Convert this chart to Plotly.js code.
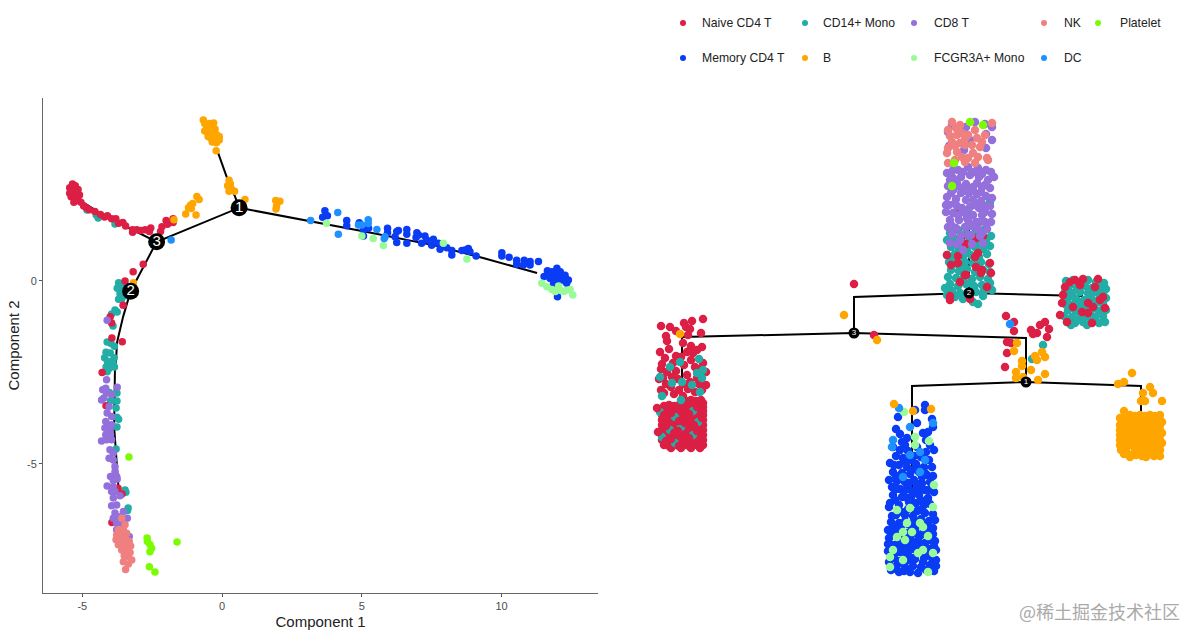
<!DOCTYPE html>
<html><head><meta charset="utf-8">
<script src="https://cdn.plot.ly/plotly-3.0.1.min.js"></script>
<style>html,body{margin:0;padding:0;background:#fff}#c{width:1200px;height:640px}</style></head>
<body><div id="c"></div>
<script>
const cNaive='#DC1F44',cMono='#22ADA6',cCD8='#9370DB',cNK='#F08080',cPlatelet='#7CFC00',cMemory='#0A3CF5',cB='#FFA500',cFCGR='#98FB98',cDC='#1E90FF';
const legendNames=['Naive CD4 T','CD14+ Mono','CD8 T','NK','Platelet','Memory CD4 T','B','FCGR3A+ Mono','DC'];
const legendColors=[cNaive,cMono,cCD8,cNK,cPlatelet,cMemory,cB,cFCGR,cDC];
const legendKeyX=[683,805,914,1044,1098,683,805,914,1044];
const legendTextX=[702,823,934,1064,1120,702,823,934,1064];
const legendKeyY=[23,23,23,23,23,58,58,58,58];

// Left panel: Component 1 / Component 2
const trajX=[-5.02,-4.37,-3.54,-2.34,0.61,0.47,0.22,-0.14,null,0.61,2.79,5.19,7.55,9.34,11.27,null,-2.34,-3.27,-3.54,-3.76,-3.79,-3.83,-3.86,-3.77,-3.69];
const trajY=[2.17,1.86,1.53,1.07,2.0,2.3,2.73,3.5,null,2.0,1.69,1.34,0.98,0.63,0.22,null,1.07,-0.28,-0.98,-1.69,-2.16,-2.35,-3.99,-4.89,-5.8];
const nodeX=[0.61,-3.27,-2.34],nodeY=[2.0,-0.28,1.07],nodeLabels=['1','2','3'];
const leftMono=[[-4.83,1.94],[-4.43,1.72],[-4.5,1.8],[-3.83,1.56],[-3.7,-0.05],[-3.6,-0.1],[-3.75,-0.2],[-3.6,-0.2],[-3.5,-0.25],[-3.65,-0.35],[-3.55,-0.4],[-3.45,-0.4],[-3.6,-0.5],[-3.7,-0.5],[-3.83,-0.79],[-3.95,-0.9],[-3.75,-0.85],[-3.9,-1.23],[-4.11,-1.67],[-3.97,-1.71],[-3.85,-1.78],[-4.0,-1.97],[-4.15,-1.95],[-3.86,-2.1],[-4.2,-2.1],[-4.1,-2.2],[-4.0,-2.2],[-3.9,-2.25],[-4.15,-2.35],[-4.05,-2.4],[-3.95,-2.33],[-3.85,-2.35],[-4.11,-2.48],[-3.76,-3.06],[-4.03,-3.05],[-3.76,-3.28],[-3.99,-3.27],[-3.79,-3.47],[-3.76,-3.72],[-3.7,-3.78],[-3.76,-3.99],[-3.79,-4.59],[-3.47,-5.71],[-3.44,-5.77],[-3.36,-6.2],[-3.38,-6.27]];
const leftNaive=[[-5.45,2.55],[-5.35,2.65],[-5.25,2.6],[-5.45,2.4],[-5.3,2.45],[-5.15,2.5],[-5.4,2.3],[-5.25,2.3],[-5.1,2.35],[-5.3,2.15],[-5.15,2.2],[-5.35,2.45],[-5.2,2.4],[-5.05,2.15],[-4.95,2.05],[-4.85,2.0],[-4.75,1.95],[-4.55,1.9],[-4.35,1.82],[-4.2,1.75],[-4.1,1.78],[-3.95,1.7],[-3.8,1.7],[-3.7,1.58],[-3.55,1.6],[-3.45,1.5],[-3.2,1.4],[-3.2,1.33],[-3.05,1.4],[-2.9,1.38],[-2.75,1.4],[-2.6,1.35],[-2.55,1.45],[-2.2,1.35],[-2.15,1.48],[-2.0,1.65],[-1.95,1.55],[-1.75,1.7],[-1.75,1.6],[-2.82,0.46],[-3.18,0.25],[-3.47,0],[-3.54,-0.66],[-4.0,-0.98],[-3.95,-1.15],[-3.94,-1.56],[-3.57,-1.66],[-4.29,-2.5],[-4.15,-3.41],[-3.72,-5.66],[-3.58,-5.82],[-3.94,-6.6]];
const leftCD8=[[-4.11,-1.07],[-4.13,-2.7],[-4.16,-2.93],[-4.27,-2.97],[-4.13,-3.06],[-3.75,-2.9],[-4.23,-3.2],[-4.31,-3.25],[-3.95,-3.11],[-4.04,-3.43],[-4.11,-3.61],[-3.95,-3.7],[-4.16,-3.84],[-4.07,-3.93],[-3.95,-3.93],[-4.19,-4.02],[-4.01,-4.07],[-4.16,-4.2],[-3.99,-4.2],[-4.31,-4.37],[-4.13,-4.34],[-3.95,-4.34],[-4.01,-4.61],[-3.89,-4.7],[-4.04,-4.84],[-3.89,-4.89],[-3.83,-5.07],[-3.83,-5.21],[-3.99,-5.34],[-3.77,-5.34],[-3.89,-5.45],[-3.75,-5.41],[-4.11,-5.6],[-3.89,-5.62],[-3.83,-5.75],[-3.95,-5.75],[-3.89,-5.93],[-3.65,-5.87],[-3.95,-6.14],[-3.77,-6.12],[-3.53,-6.3],[-3.83,-6.34],[-3.71,-6.44],[-3.89,-6.48],[-3.39,-6.48],[-3.77,-6.62],[-3.59,-6.62],[-3.77,-6.8],[-3.32,-6.98]];
const leftNK=[[-3.59,-6.48],[-3.47,-6.66],[-3.71,-6.8],[-3.53,-6.8],[-3.77,-6.94],[-3.59,-6.94],[-3.41,-6.89],[-3.79,-7.07],[-3.63,-7.09],[-3.44,-7.06],[-3.32,-7.12],[-3.71,-7.21],[-3.53,-7.21],[-3.35,-7.24],[-3.27,-7.24],[-3.59,-7.35],[-3.41,-7.37],[-3.29,-7.42],[-3.5,-7.51],[-3.35,-7.53],[-3.23,-7.62],[-3.53,-7.67],[-3.35,-7.73],[-3.45,-7.88]];
const leftPlatelet=[[-3.33,-4.81],[-2.68,-7.02],[-2.67,-7.12],[-2.58,-7.2],[-2.52,-7.3],[-2.58,-7.4],[-2.6,-7.81],[-2.4,-7.95],[-1.61,-7.13]];
const leftB=[[-0.67,4.4],[-0.62,4.3],[-0.45,4.3],[-0.3,4.32],[-0.55,4.2],[-0.4,4.2],[-0.25,4.15],[-0.62,4.1],[-0.5,4.05],[-0.35,4.05],[-0.2,4.0],[-0.1,3.95],[-0.5,3.95],[-0.4,3.9],[-0.25,3.85],[-0.1,3.85],[-0.35,3.8],[-0.2,3.78],[-0.21,3.56],[0.25,2.75],[0.3,2.65],[0.2,2.6],[0.35,2.5],[0.45,2.45],[0.25,2.45],[0.82,2.23],[1.92,2.2],[2.07,2.18],[1.95,2.05],[1.93,1.97],[-0.9,2.31],[-0.82,2.23],[-1.13,2.07],[-1.2,2.0],[-1.05,2.12],[-1.1,1.98],[-1.3,1.83],[-0.93,1.8],[-1.72,1.67],[-3.17,-0.05]];
const leftMemory=[[3.68,1.92],[3.77,1.78],[3.6,1.74],[4.46,1.65],[4.46,1.51],[4.91,1.59],[5.06,1.39],[5.24,1.44],[5.06,1.23],[5.92,1.44],[5.92,1.32],[6.25,1.35],[6.31,1.38],[6.19,1.21],[6.25,1.05],[6.61,1.41],[6.61,1.28],[6.61,1.03],[6.97,1.32],[6.94,1.19],[7.03,1.26],[7.26,1.23],[7.14,1.03],[7.32,1.12],[7.5,0.98],[7.56,1.14],[7.74,1.03],[7.8,0.87],[8.04,0.91],[8.22,0.83],[8.22,0.71],[8.58,0.83],[8.81,0.89],[8.87,0.8],[8.7,0.85],[9.09,0.68],[10.01,0.77],[10.01,0.68],[10.27,0.65],[10.54,0.57],[10.54,0.46],[10.81,0.57],[10.78,0.44],[11.02,0.53],[11.02,0.44],[11.32,0.53],[11.64,0.28],[11.52,0.12],[11.8,0.25],[11.98,0.35],[12.1,0.25],[12.27,0.16],[12.39,0.03],[11.74,0.07],[11.92,0.12],[12.16,0.03],[11.86,-0.06],[12.04,-0.06],[12.33,-0.06],[12.0,-0.43],[11.7,0.17],[11.85,0.2],[12.0,0.18],[12.15,0.12],[11.95,0.02],[12.28,0.06]];
const leftFCGR=[[3.74,1.58],[5.0,1.23],[5.41,1.16],[5.77,0.97],[7.92,1.03],[8.76,0.6],[11.44,-0.06],[11.62,-0.16],[11.8,-0.23],[12.04,-0.14],[12.22,-0.29],[12.45,-0.23],[12.55,-0.38],[11.92,-0.29],[12.1,-0.25],[12.33,-0.25]];
const leftDC=[[-1.82,1.12],[3.17,1.65],[4.14,1.87],[4.16,1.28],[4.88,1.53],[5.0,1.53],[5.23,1.67],[5.23,1.57],[5.54,1.41],[5.83,1.21],[5.8,1.16]];
const leftTicksX=[-5,0,5,10],leftTicksY=[-5,0];

// Right panel: dendrogram layout (no visible axes)
const treeX=[682,682,854,1026,1026,null,912,912,1026,1141,1141,null,854,854,969,1083,null,969,969];
const treeY=[395,337,333,338,382,null,520,386,382,386,412,null,333,297,293,296,null,293,225];
const treeNodeX=[1026,969,854],treeNodeY=[382,293,333];
const rightNaive=[[703,319],[692,321],[684,323],[661,326],[670,327],[686,327],[690,329],[666,336],[688,335],[701,333],[676,331],[667,341],[660,352],[691,346],[702,347],[690,350],[693,353],[669,349],[683,343],[697,350],[676,356],[681,357],[691,360],[662,364],[661,369],[673,363],[703,363],[676,371],[684,365],[695,367],[706,372],[700,369],[667,372],[659,379],[678,379],[687,375],[697,378],[666,384],[683,384],[672,377],[690,382],[661,390],[671,387],[702,390],[664,393],[674,394],[688,389],[683,396],[695,392],[706,385],[665,358],[687,352],[663,378],[679,390],[699,384],
[686,401],[691,400],[696,401],[701,400],[703,403],[664,406],[669,405],[674,406],[679,405],[684,406],[689,405],[694,406],[699,405],[703,407],[662,410],[667,410],[672,411],[677,410],[682,411],[687,410],[692,411],[697,410],[703,411],[662,415],[667,416],[672,415],[677,416],[682,415],[687,416],[692,415],[697,416],[703,415],[662,420],[667,421],[672,420],[677,421],[682,420],[687,421],[692,420],[697,421],[703,420],[662,425],[667,426],[672,425],[677,426],[682,425],[687,426],[692,425],[697,426],[703,425],[662,430],[667,431],[672,430],[677,431],[682,430],[687,431],[692,430],[697,431],[703,430],[662,435],[667,436],[672,435],[677,436],[682,435],[687,436],[692,435],[697,436],[703,435],[662,440],[667,441],[672,440],[677,441],[682,440],[687,441],[692,440],[697,441],[703,440],[664,445],[669,446],[674,445],[679,446],[684,445],[689,446],[694,445],[699,446],[703,445],[671,448],[681,448],[691,448],[700,448],
[854,284],[874,335],[1006,316],[1014,322],[1014,331],[1031,330],[1040,325],[1045,322],[1037,333],[1033,334],[1049,329],[1047,337],[1007,342],[1011,343],[1007,353],[1005,367]];
const rightMono=[[699,359],[680,362],[703,370],[702,378],[660,377],[670,367],[697,373],[692,385],[700,392],[662,396],[682,382],[672,383],[681,400],[660,412],[693,411],[675,417],[681,427],[698,422],[670,430],[662,437],[693,435],[675,443],[1043,345],[1032,359],
[990,202],[970,215],[950,233],[958,230],[966,228],[975,233],[984,230],[991,236],[947,240],[954,238],[962,242],[970,240],[978,243],[986,241],[951,247],[959,249],[967,250],[975,247],[983,249],[990,246],[947,255],[955,254],[963,256],[971,255],[979,257],[987,254],[949,262],[957,264],[965,262],[973,263],[981,262],[989,264],[951,270],[959,271],[967,269],[975,272],[983,270],[990,272],[948,277],[956,278],[964,277],[972,279],[980,277],[988,279],[950,284],[958,286],[966,284],[974,286],[982,285],[990,283],[945,288],[952,291],[960,293],[968,292],[976,292],[984,291],[992,290],[947,295],[955,297],[963,299],[983,296],[973,302],[978,304],[953,242],[965,235],[981,238],[962,268],[978,265],[954,259],[970,283],
[1066,281],[1073,280],[1081,282],[1088,280],[1096,282],[1104,283],[1069,286],[1077,287],[1085,286],[1092,288],[1100,287],[1106,289],[1065,292],[1072,293],[1080,292],[1088,293],[1096,292],[1103,293],[1068,298],[1076,299],[1084,300],[1091,298],[1099,299],[1106,298],[1065,304],[1072,305],[1080,305],[1087,305],[1095,304],[1103,304],[1068,310],[1076,311],[1084,311],[1091,310],[1099,311],[1106,310],[1064,316],[1072,317],[1080,317],[1087,316],[1095,317],[1103,316],[1067,322],[1075,323],[1083,322],[1091,322],[1099,323],[1105,322],[1071,325],[1087,325]];
const rightNaiveOver=[[697,407],[689,414],[671,413],[679,421],[685,423],[678,431],[702,418],[694,425],[666,426],[674,433],[658,432],[666,441],[697,431],[689,438],[671,439],[679,446],[657,408],[664,415],
[958,209],[962,236],[966,244],[976,238],[983,236],[947,255],[958,256],[978,253],[975,257],[990,263],[951,265],[958,263],[965,275],[982,270],[991,273],[976,267],[960,282],[987,287],[950,296],[970,298],[950,300],[970,299],[981,273],[966,275],
[1070,282],[1065,287],[1075,280],[1083,279],[1098,279],[1080,285],[1095,287],[1063,295],[1103,297],[1100,300],[1073,307],[1088,303],[1093,307],[1082,312],[1088,313],[1060,315],[1067,322],[1092,323],[1105,308],[1062,303]];
const rightCD8=[[952,125],[975,122],[985,124],[992,127],[948,132],[966,127],[986,134],[992,140],[970,140],[949,146],[986,148],[964,150],[958,170],[968,167],[978,168],[986,170],[991,172],[947,173],[953,178],[961,177],[970,175],[979,177],[988,180],[994,177],[948,186],[958,186],[966,184],[973,187],[982,187],[990,188],[951,193],[961,193],[969,193],[977,194],[986,196],[956,199],[966,200],[973,200],[981,201],[992,198],[947,197],[949,205],[957,206],[970,207],[979,208],[985,206],[946,212],[953,213],[965,213],[973,215],[982,215],[992,214],[950,220],[959,220],[968,220],[976,222],[985,222],[991,222],[948,227],[956,228],[965,227],[978,229],[987,229],[952,234],[961,235],[971,235],[982,233],[950,243],[957,244],[972,244],[983,243],[963,250],[953,170],[963,172],[974,172],[982,174],[957,183],[977,183],[985,185],[953,190],[973,190],[946,205],[990,206],[962,208],[975,205],[958,215],[980,222],[968,235],[950,180],[965,189],[981,192],[955,203],[967,218],[985,212],[952,226],[972,226],[960,240],[980,236]];
const rightNK=[[952,122],[960,125],[948,130],[957,135],[962,133],[977,138],[952,142],[960,143],[965,145],[982,142],[947,153],[957,152],[973,153],[962,157],[978,157],[988,160],[948,163],[968,158],[980,147],[955,160],[992,123],[975,130],[987,158],[968,135],[956,128],[950,136],[955,146],[965,139],[972,145],[985,135],[948,148],[975,163],[965,162]];
const rightPlatelet=[[970,122],[983,125],[954,163],[952,186]];
const rightMemory=[[915,410],[925,405],[925,410],[898,417],[896,429],[900,434],[917,423],[932,419],[933,427],[923,433],[928,432],[907,438],[905,445],[930,445],[902,442],[926,440],
[893,447],[900,450],[908,451],[917,447],[926,452],[934,450],[896,456],[903,458],[911,460],[921,457],[929,460],[890,463],[899,465],[907,467],[916,464],[924,467],[932,467],[893,472],[902,473],[910,474],[919,472],[927,475],[889,480],[897,481],[905,482],[914,480],[922,483],[930,482],[892,487],[900,489],[909,489],[917,488],[925,490],[934,492],[893,495],[902,497],[911,497],[919,495],[928,498],[890,503],[899,505],[916,503],[924,505],[889,507],[896,515],[905,515],[913,516],[925,513],[933,514],[929,521],[935,520],[921,519],[891,522],[899,523],[908,524],[917,526],[926,525],[933,528],[888,530],[895,531],[907,533],[916,533],[921,535],[933,534],[889,538],[897,544],[903,546],[912,541],[918,540],[925,543],[935,541],[892,545],[888,551],[899,552],[908,552],[914,549],[929,549],[936,550],[894,558],[908,560],[915,559],[924,558],[932,558],[936,560],[889,562],[897,565],[905,567],[913,566],[921,567],[930,565],[936,566],[891,570],[899,572],[910,572],[918,573],[934,571],
[914,456],[905,461],[918,468],[912,470],[922,477],[909,483],[917,484],[905,490],[913,493],[921,501],[909,502],[895,500],[930,504],[920,510],[908,509],[901,529],[893,525],[912,527],[928,530],[903,538],[896,550],[904,554],[920,546],[893,535],[910,546],[927,554],[900,561],
[894,465],[925,473],[896,476],[933,476],[921,488],[929,490],[896,489],[905,497],[926,500],[902,512],[892,516],[917,511],[905,521],[914,521],[898,529],[923,533],[930,540],[910,536],[888,544],[917,547],[923,562],[913,558],[896,569],[904,571],[926,570],[900,540],[934,546]];
const rightFCGR=[[904,412],[915,437],[915,445],[929,441],[897,510],[910,508],[933,507],[934,485],[903,532],[912,532],[923,527],[928,536],[905,540],[893,550],[890,557],[918,553],[923,550],[903,560],[890,567],[928,572],[933,553],[897,537],[920,523],[907,523]];
const rightDC=[[899,408],[910,427],[893,440],[910,455],[920,452],[903,477],[925,460],[933,423],[892,447],[920,472],[1010,324]];
const rightB=[[680,334],[844,315],[877,340],[1017,343],[1014,351],[1042,352],[1037,360],[1045,357],[1022,361],[1022,366],[1016,372],[1016,378],[1023,377],[1031,370],[1038,380],[1045,374],[1035,356],
[894,404],[931,409],[913,411],[1132,373],[1118,384],[1124,382],[1150,387],[1153,393],[1143,393],[1141,401],[1145,401],[1162,401],
[1124,411],[1125,416],[1130,415],[1135,416],[1140,415],[1145,416],[1150,415],[1155,416],[1160,415],[1120,418],[1125,421],[1130,420],[1135,421],[1140,420],[1145,421],[1150,420],[1155,421],[1160,420],[1162,422],[1120,425],[1125,426],[1130,425],[1135,426],[1140,425],[1145,426],[1150,425],[1155,426],[1160,425],[1120,430],[1125,431],[1130,430],[1135,431],[1140,430],[1145,431],[1150,430],[1155,431],[1160,430],[1162,433],[1120,435],[1125,436],[1130,435],[1135,436],[1140,435],[1145,436],[1150,435],[1155,436],[1160,435],[1120,440],[1125,441],[1130,440],[1135,441],[1140,440],[1145,441],[1150,440],[1155,441],[1160,440],[1162,443],[1120,445],[1125,446],[1130,445],[1135,446],[1140,445],[1145,446],[1150,445],[1155,446],[1160,445],[1121,450],[1126,451],[1135,450],[1140,451],[1145,450],[1150,451],[1155,450],[1160,450],[1124,454],[1130,455],[1136,455],[1142,456],[1148,455],[1154,456],[1160,456],[1130,457],[1146,457]];

function pts(pairs,color,xa,ya,size){return {type:'scatter',mode:'markers',x:pairs.map(p=>p[0]),y:pairs.map(p=>p[1]),xaxis:xa,yaxis:ya,hoverinfo:'skip',showlegend:false,marker:{color:color,size:size,line:{width:0}}};}
function lineTrace(x,y,xa,ya){return {type:'scatter',mode:'lines',x:x,y:y,xaxis:xa,yaxis:ya,hoverinfo:'skip',showlegend:false,connectgaps:false,line:{color:'#000',width:2}};}
function nodeTrace(x,y,xa,ya,size,fs){return {type:'scatter',mode:'markers+text',x:x,y:y,text:nodeLabels,textposition:'middle center',textfont:{color:'#fff',size:fs,family:'Liberation Sans'},xaxis:xa,yaxis:ya,hoverinfo:'skip',showlegend:false,marker:{color:'#000',size:size,line:{width:0}}};}
const S=7.5,R=8.5;
const traces=[
 lineTrace(trajX,trajY,'x','y'),
 pts(leftMono,cMono,'x','y',S),pts(leftNaive,cNaive,'x','y',S),pts(leftCD8,cCD8,'x','y',S),pts(leftNK,cNK,'x','y',S),pts(leftPlatelet,cPlatelet,'x','y',S),pts(leftB,cB,'x','y',S),pts(leftMemory,cMemory,'x','y',S),pts(leftFCGR,cFCGR,'x','y',S),pts(leftDC,cDC,'x','y',S),
 nodeTrace(nodeX,nodeY,'x','y',17,15),
 lineTrace(treeX,treeY,'x2','y2'),
 pts(rightNaive,cNaive,'x2','y2',R),pts(rightMono,cMono,'x2','y2',R),pts(rightNaiveOver,cNaive,'x2','y2',R),pts(rightCD8,cCD8,'x2','y2',R),pts(rightNK,cNK,'x2','y2',R),pts(rightPlatelet,cPlatelet,'x2','y2',R),pts(rightMemory,cMemory,'x2','y2',R),pts(rightFCGR,cFCGR,'x2','y2',R),pts(rightDC,cDC,'x2','y2',R),pts(rightB,cB,'x2','y2',R),
 nodeTrace(treeNodeX,treeNodeY,'x2','y2',11,8),
 {type:'scatter',mode:'markers',x:legendKeyX,y:legendKeyY,xaxis:'x3',yaxis:'y3',hoverinfo:'skip',showlegend:false,marker:{color:legendColors,size:6,line:{width:0}}}
];
const FONT='Liberation Sans, Arial, sans-serif';
const annotations=legendNames.map((n,i)=>({text:n,xref:'x3',yref:'y3',x:legendTextX[i]-2,y:legendKeyY[i],xanchor:'left',yanchor:'middle',showarrow:false,font:{family:FONT,size:12.2,color:'#222'}}));
annotations.push({text:'@稀土掘金技术社区',xref:'x3',yref:'y3',x:1182,y:611,xanchor:'right',yanchor:'middle',showarrow:false,font:{family:'Noto Sans CJK SC',size:18,color:'#aaaaaa'}});
const layout={width:1200,height:640,margin:{l:0,r:0,t:0,b:0},paper_bgcolor:'#fff',plot_bgcolor:'rgba(0,0,0,0)',showlegend:false,font:{family:FONT},
 xaxis:{domain:[43/1200,598/1200],range:[-6.405,13.45],anchor:'y',showgrid:false,zeroline:false,showline:true,linecolor:'#666',linewidth:1,ticks:'outside',ticklen:3,tickcolor:'#555',tickvals:leftTicksX,ticktext:leftTicksX.map(String),tickfont:{size:11,color:'#4d4d4d'},title:{text:'Component 1',font:{size:15,color:'#222'},standoff:5}},
 yaxis:{domain:[1-593/640,1-98/640],range:[-8.525,5.0],anchor:'x',showgrid:false,zeroline:false,showline:true,linecolor:'#666',linewidth:1,ticks:'outside',ticklen:3,tickcolor:'#555',tickvals:leftTicksY,ticktext:leftTicksY.map(String),tickfont:{size:11,color:'#4d4d4d'},title:{text:'Component 2',font:{size:15,color:'#222'},standoff:3}},
 xaxis2:{domain:[640/1200,1190/1200],range:[640,1190],anchor:'y2',visible:false},
 yaxis2:{domain:[1-590/640,1-100/640],range:[590,100],anchor:'x2',visible:false},
 xaxis3:{domain:[0,1],range:[0,1200],anchor:'y3',visible:false},
 yaxis3:{domain:[0,1],range:[640,0],anchor:'x3',visible:false},
 annotations:annotations};
Plotly.newPlot('c',traces,layout,{displayModeBar:false,staticPlot:true});
</script></body></html>
